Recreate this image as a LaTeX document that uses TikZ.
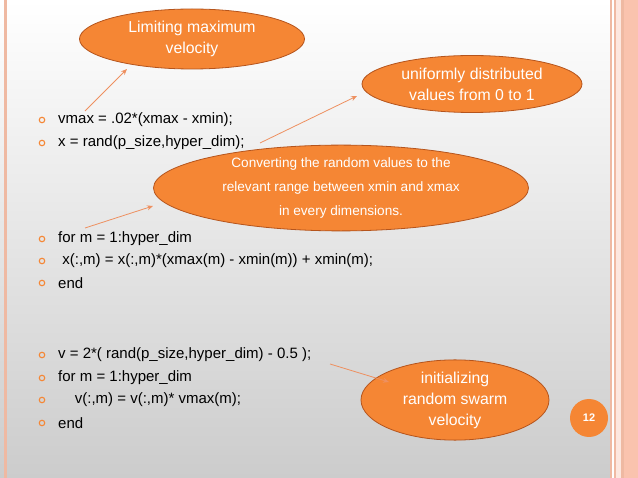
\documentclass[tikz,border=0pt]{standalone}
\usepackage{fontspec}
\setmainfont{Liberation Sans}
\definecolor{org}{HTML}{F58634}
\definecolor{orgdk}{HTML}{B5541C}
\definecolor{arr}{HTML}{EE9060}
\definecolor{salmon}{HTML}{FAC3AE}
\definecolor{pinkline}{HTML}{EFB9A2}
\tikzset{
  bubble/.style={ellipse, fill=org, draw=orgdk, line width=0.8pt, text=white, align=center, font=\fontsize{15.8}{21}\selectfont, inner sep=0pt},
  callout/.style={draw=arr, line width=0.8pt, -{Stealth[length=6pt,width=5pt]}},
  code/.style={anchor=west, font=\fontsize{15}{16}\selectfont, inner sep=0pt},
  bul/.style={circle, draw=org, line width=1.1pt, minimum size=5.5pt, inner sep=0pt}
}
\usetikzlibrary{shapes.geometric,arrows.meta}
\begin{document}
\begin{tikzpicture}[x=1pt,y=-1pt]
\useasboundingbox (0,0) rectangle (638,478);
\shade[top color=white, bottom color=black!20] (0,0) rectangle (610,478);
\fill[pinkline] (4,0) rectangle (7,478);
\fill[pinkline] (610,0) rectangle (612,478);
\fill[white] (612,0) rectangle (614,478);
\fill[pinkline] (614,0) rectangle (616,478);
\fill[salmon!40] (616,0) rectangle (621,478);
\fill[pinkline] (621,0) rectangle (624,478);
\fill[salmon] (624,0) rectangle (638,478);

\node[bubble, minimum width=225pt, minimum height=60pt] (lim) at (192,39) {Limiting maximum\\velocity};
\node[bubble, minimum width=220pt, minimum height=57pt] (uni) at (472,84) {uniformly distributed\\values from 0 to 1};
\node[bubble, minimum width=375pt, minimum height=76pt, font=\fontsize{13.6}{24}\selectfont] (conv) at (341,188) {Converting the random values to the\\relevant range between xmin and xmax\\in every dimensions.};
\node[bubble, minimum width=188pt, minimum height=66pt] (init) at (455,400) {initializing\\random swarm\\velocity};
\node[circle, fill=org, minimum size=38pt, inner sep=0pt, text=white, font=\bfseries\fontsize{11}{13}\selectfont] (pg) at (589,418) {12};

\foreach \y/\t [count=\i] in {120/{vmax = .02*(xmax - xmin);}, 143/{x = rand(p\_size,hyper\_dim);},
  239/{for m = 1:hyper\_dim}, 261/{\ x(:,m) = x(:,m)*(xmax(m) - xmin(m)) + xmin(m);}, 283/{end},
  355/{v = 2*( rand(p\_size,hyper\_dim) - 0.5 );}, 378/{for m = 1:hyper\_dim}, 400/{\ \ \ \ v(:,m) = v(:,m)* vmax(m);}, 423/{end}}{
  \node[bul] (b\i) at (42,\y) {};
  \node[code] (t\i) at (58,\y) {\t};
}
\coordinate (a1) at (85,111);
\coordinate (a2) at (260,143);
\coordinate (a3) at (85,228);
\coordinate (a4) at (330,364);
\draw[callout] (a1) -- (127,69);
\draw[callout] (a2) -- (357,96);
\draw[callout] (a3) -- (153,206);
\draw[callout] (a4) -- (389,382);
\end{tikzpicture}
\end{document}
